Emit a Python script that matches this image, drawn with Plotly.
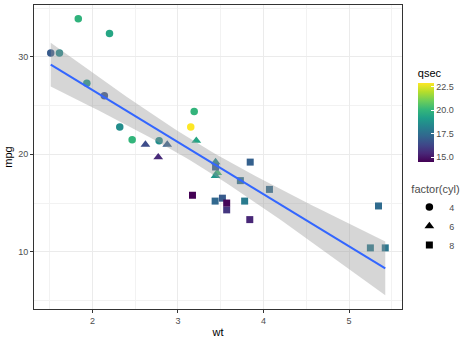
import numpy as np
import plotly.graph_objects as go

# mtcars data
wt = [2.620, 2.875, 2.320, 3.215, 3.440, 3.460, 3.570, 3.190, 3.150, 3.440, 3.440,
      4.070, 3.730, 3.780, 5.250, 5.424, 5.345, 2.200, 1.615, 1.835, 2.465, 3.520,
      3.435, 3.840, 3.845, 1.935, 2.140, 1.513, 3.170, 2.770, 3.570, 2.780]
mpg = [21.0, 21.0, 22.8, 21.4, 18.7, 18.1, 14.3, 24.4, 22.8, 19.2, 17.8,
       16.4, 17.3, 15.2, 10.4, 10.4, 14.7, 32.4, 30.4, 33.9, 21.5, 15.5,
       15.2, 13.3, 19.2, 27.3, 26.0, 30.4, 15.8, 19.7, 15.0, 21.4]
cyl = [6, 6, 4, 6, 8, 6, 8, 4, 4, 6, 6, 8, 8, 8, 8, 8, 8, 4, 4, 4, 4, 8,
       8, 8, 8, 4, 4, 4, 8, 6, 8, 4]
qsec = [16.46, 17.02, 18.61, 19.44, 17.02, 20.22, 15.84, 20.00, 22.90, 18.30, 18.90,
        17.40, 17.60, 18.00, 17.98, 17.82, 17.42, 19.47, 18.52, 19.90, 20.01, 16.87,
        17.30, 15.41, 17.05, 18.90, 16.70, 16.90, 14.50, 15.50, 14.60, 18.60]
cyl_levels = [4, 6, 8]
symbols = {4: "circle", 6: "triangle-up", 8: "square"}
sizes = {4: 7.5, 6: 8.5, 8: 7}

x = np.array(wt); y = np.array(mpg)
n = len(x)
b, a = np.polyfit(x, y, 1)
resid = y - (a + b * x)
sigma = np.sqrt(np.sum(resid ** 2) / (n - 2))
sxx = np.sum((x - x.mean()) ** 2)
tq = 2.042272  # t quantile 0.975, df=30
xs = np.linspace(x.min(), x.max(), 80)
fit = a + b * xs
se = sigma * np.sqrt(1 / n + (xs - x.mean()) ** 2 / sxx)
lo = fit - tq * se
hi = fit + tq * se

fig = go.Figure()
for c in cyl_levels:
    idx = [i for i in range(n) if cyl[i] == c]
    fig.add_trace(go.Scatter(
        x=[wt[i] for i in idx], y=[mpg[i] for i in idx], mode="markers",
        marker=dict(symbol=symbols[c], size=sizes[c], color=[qsec[i] for i in idx],
                    coloraxis="coloraxis", line=dict(width=0)),
        showlegend=False, hoverinfo="skip"))

fig.add_trace(go.Scatter(x=np.concatenate([xs, xs[::-1]]), y=np.concatenate([hi, lo[::-1]]),
                         fill="toself", fillcolor="rgba(153,153,153,0.4)", line=dict(width=0),
                         mode="lines", showlegend=False, hoverinfo="skip"))
fig.add_trace(go.Scatter(x=xs, y=fit, mode="lines", line=dict(color="#3366FF", width=2),
                         showlegend=False, hoverinfo="skip"))

for c in cyl_levels:
    fig.add_trace(go.Scatter(x=[None], y=[None], mode="markers", name=str(c),
                             marker=dict(symbol=symbols[c], size=sizes[c], color="black")))

xr = [x.min() - 0.05 * (x.max() - x.min()), x.max() + 0.05 * (x.max() - x.min())]
ymin = min(lo.min(), y.min()); ymax = max(hi.max(), y.max())
yr = [ymin - 0.05 * (ymax - ymin), ymax + 0.05 * (ymax - ymin)]

axis_common = dict(showgrid=True, gridcolor="#ebebeb", gridwidth=1, zeroline=False,
                   showline=True, mirror=True, linecolor="#333333", linewidth=1,
                   ticks="outside", ticklen=3, tickcolor="#333333", automargin=False,
                   tickfont=dict(size=9, color="#4d4d4d", family="Liberation Sans"))

fig.update_layout(
    width=474, height=338, margin=dict(l=34, r=72, t=5, b=29),
    paper_bgcolor="white", plot_bgcolor="white",
    font=dict(family="Liberation Sans", color="black"),
    xaxis=dict(range=xr, dtick=1, tick0=0, title=dict(text="wt", font=dict(size=11), standoff=7),
               minor=dict(dtick=0.5, tick0=0.5, showgrid=True, gridcolor="#f2f2f2", gridwidth=0.6, ticks=""),
               **axis_common),
    yaxis=dict(range=yr, dtick=10, tick0=0, title=dict(text="mpg", font=dict(size=11), standoff=3),
               minor=dict(dtick=5, tick0=5, showgrid=True, gridcolor="#f2f2f2", gridwidth=0.6, ticks=""),
               **axis_common),
    coloraxis=dict(colorscale="Viridis", cmin=min(qsec), cmax=max(qsec),
                   colorbar=dict(title=dict(text="qsec", side="top", font=dict(size=11)),
                                 x=1.043, xanchor="left", xpad=0, y=0.80, yanchor="top", ypad=0,
                                 len=96, lenmode="pixels", thickness=16, thicknessmode="pixels",
                                 outlinewidth=0, tickvals=[15, 17.5, 20, 22.5],
                                 ticktext=["15.0", "17.5", "20.0", "22.5"],
                                 ticks="inside", ticklen=3, tickcolor="white",
                                 tickfont=dict(size=9, color="#4d4d4d"))),
    legend=dict(title=dict(text="factor(cyl)", font=dict(size=11)), x=1.02, xanchor="left",
                y=0.43, yanchor="top", font=dict(size=9, color="#4d4d4d"),
                tracegroupgap=0, itemwidth=30, bgcolor="rgba(0,0,0,0)"),
)

fig.write_html("out.html")
